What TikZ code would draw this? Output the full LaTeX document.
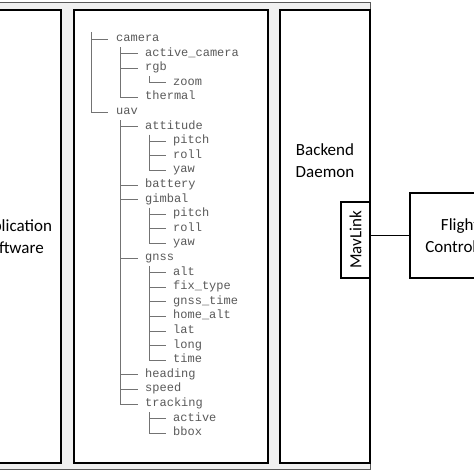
\documentclass[tikz,border=0pt]{standalone}
\usepackage{fontspec}
\setmainfont{Carlito}
\newfontfamily\treefont{Liberation Mono}
\definecolor{paneback}{HTML}{F0F0F0}
\definecolor{treegray}{HTML}{5A5A5A}
\tikzset{
  panel/.style={draw=black, line width=1.1pt, fill=white, inner sep=0pt},
  caption/.style={font=\fontsize{17}{22}\selectfont, align=center},
  leaf/.style={anchor=west, inner sep=0pt, text height=7pt, text depth=2pt,
    text=treegray, font=\treefont\fontsize{12}{14}\selectfont},
  branch/.style={draw=treegray!85, line width=0.9pt}
}
\begin{document}
\begin{tikzpicture}[x=1pt,y=-1pt]
  \useasboundingbox (0,0) rectangle (474,474);
  \clip (0,0) rectangle (474,474);
  % host frame and its three panels
  \node[draw=black!65, line width=0.8pt, fill=paneback, minimum width=430pt,
    minimum height=467pt] (host) at (155,235.5) {};
  \node[panel, minimum width=96pt, minimum height=453pt] (app) at (13,236.5) {};
  \node[panel, minimum width=194pt, minimum height=453pt] (store) at (171,236.5) {};
  \node[panel, minimum width=90pt, minimum height=453pt] (backend) at (325,236.5) {};
  \node[caption] at (app.center) {Application\\Software};
  \node[caption] at (325,161) {Backend\\Daemon};
  % link to the flight controller
  \node[panel, minimum width=29pt, minimum height=76pt] (mavlink) at (355.5,240) {};
  \node[caption, rotate=90] at (mavlink.center) {MavLink};
  \node[panel, minimum width=100pt, minimum height=85pt, caption] (fc) at (460,235.5)
    {Flight\\Controller};
  \draw[line width=1.1pt] (fc.west) -- (fc.west -| mavlink.east);
  % data tree
  \coordinate (root) at (91,32);
  \draw
    (116,39) node[leaf] (cam) {camera}
    (145,53.6) node[leaf] (actcam) {active\_camera}
    (145,68.2) node[leaf] (rgb) {rgb}
    (173,82.8) node[leaf] (zoom) {zoom}
    (145,97.4) node[leaf] (thermal) {thermal}
    (116,112) node[leaf] (uav) {uav}
    (145,126.6) node[leaf] (att) {attitude}
    (173,141.2) node[leaf] (attpitch) {pitch}
    (173,155.8) node[leaf] (attroll) {roll}
    (173,170.4) node[leaf] (attyaw) {yaw}
    (145,185) node[leaf] (batt) {battery}
    (145,199.6) node[leaf] (gimbal) {gimbal}
    (173,214.2) node[leaf] (gimpitch) {pitch}
    (173,228.8) node[leaf] (gimroll) {roll}
    (173,243.4) node[leaf] (gimyaw) {yaw}
    (145,258) node[leaf] (gnss) {gnss}
    (173,272.6) node[leaf] (alt) {alt}
    (173,287.2) node[leaf] (fixtype) {fix\_type}
    (173,301.8) node[leaf] (gnsstime) {gnss\_time}
    (173,316.4) node[leaf] (homealt) {home\_alt}
    (173,331) node[leaf] (lat) {lat}
    (173,345.6) node[leaf] (long) {long}
    (173,360.2) node[leaf] (time) {time}
    (145,374.8) node[leaf] (heading) {heading}
    (145,389.4) node[leaf] (speed) {speed}
    (145,404) node[leaf] (tracking) {tracking}
    (173,418.6) node[leaf] (active) {active}
    (173,433.2) node[leaf] (bbox) {bbox};
  \begin{scope}[branch]
    \draw (root) |- ([xshift=-8pt]cam.west);
    \draw (root) |- ([xshift=-8pt]uav.west);
    \foreach \p/\c in {cam/actcam, cam/rgb, cam/thermal, rgb/zoom,
        uav/att, uav/batt, uav/gimbal, uav/gnss, uav/heading, uav/speed, uav/tracking,
        att/attpitch, att/attroll, att/attyaw,
        gimbal/gimpitch, gimbal/gimroll, gimbal/gimyaw,
        gnss/alt, gnss/fixtype, gnss/gnsstime, gnss/homealt, gnss/lat, gnss/long, gnss/time,
        tracking/active, tracking/bbox}
      \draw ([xshift=4pt,yshift=-3.5pt]\p.south west) |- ([xshift=-7pt]\c.west);
  \end{scope}
\end{tikzpicture}
\end{document}
